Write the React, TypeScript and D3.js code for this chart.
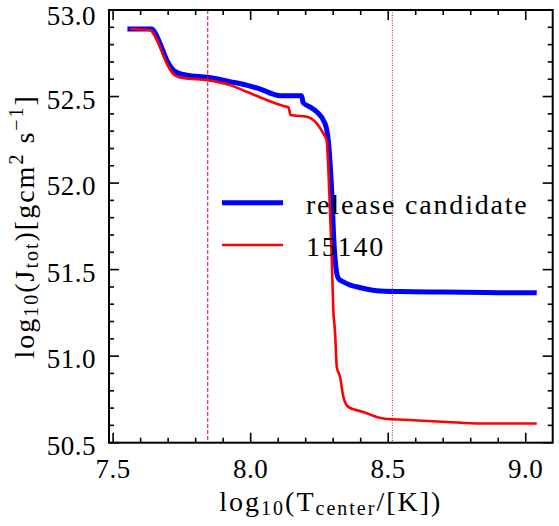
import { useEffect, useRef } from 'react';
import * as React from 'react';
import * as d3 from 'd3';

// release candidate (blue)
const rcX = [7.552, 7.641, 7.652, 7.67, 7.695, 7.719, 7.74, 7.767, 7.844, 7.925, 7.985, 8.04, 8.082, 8.107, 8.185, 8.191, 8.215, 8.24, 8.27, 8.282, 8.295, 8.303, 8.313, 8.319, 8.337, 8.36, 8.385, 8.42, 8.458, 8.543, 8.7, 8.9, 9.04];
const rcY = [52.89, 52.89, 52.87, 52.808, 52.711, 52.653, 52.634, 52.624, 52.611, 52.586, 52.566, 52.54, 52.514, 52.505, 52.505, 52.464, 52.44, 52.412, 52.345, 52.249, 51.942, 51.653, 51.478, 51.449, 51.429, 51.412, 51.401, 51.388, 51.378, 51.373, 51.37, 51.367, 51.366];

// 15140 (red)
const oldX = [7.561, 7.634, 7.648, 7.67, 7.695, 7.719, 7.74, 7.767, 7.844, 7.925, 7.985, 8.058, 8.131, 8.137, 8.145, 8.204, 8.24, 8.264, 8.276, 8.286, 8.295, 8.3, 8.307, 8.313, 8.325, 8.337, 8.355, 8.409, 8.482, 8.591, 8.713, 8.834, 9.04];
const oldY = [52.89, 52.884, 52.86, 52.788, 52.692, 52.63, 52.612, 52.605, 52.595, 52.566, 52.528, 52.48, 52.441, 52.439, 52.393, 52.383, 52.345, 52.287, 52.249, 51.942, 51.555, 51.285, 51.133, 50.938, 50.88, 50.765, 50.707, 50.678, 50.64, 50.63, 50.62, 50.611, 50.611];

const vLines = [7.844, 8.515];
const xMajor = [7.5, 8.0, 8.5, 9.0];
const yMajor = [50.5, 51.0, 51.5, 52.0, 52.5, 53.0];
const legendNames = ['release candidate', '15140'];

const FONT = "'Liberation Serif', 'Times New Roman', Times, 'DejaVu Serif', serif";

const App: React.FC = () => {
    const ref = useRef<SVGSVGElement>(null);

    useEffect(() => {
        const svgWidth = 559, svgHeight = 526;
        const left = 109, right = 552.7, top = 10, bottom = 442.7;

        const svg = d3.select(ref.current)
            .attr('width', svgWidth)
            .attr('height', svgHeight);
        svg.selectAll('*').remove();

        const x = d3.scaleLinear().domain([7.485, 9.098]).range([left, right]);
        const y = d3.scaleLinear().domain([50.5, 53.0]).range([bottom, top]);

        svg.append('defs').append('clipPath').attr('id', 'plotclip')
            .append('rect')
            .attr('x', left).attr('y', top)
            .attr('width', right - left).attr('height', bottom - top);

        const plot = svg.append('g').attr('clip-path', 'url(#plotclip)');

        const line = d3.line<[number, number]>()
            .x(d => x(d[0]))
            .y(d => y(d[1]))
            .curve(d3.curveMonotoneX);

        const rc = rcX.map((v, i) => [v, rcY[i]] as [number, number]);
        const old = oldX.map((v, i) => [v, oldY[i]] as [number, number]);

        plot.append('path')
            .datum(rc)
            .attr('fill', 'none')
            .attr('stroke', '#0000ff')
            .attr('stroke-width', 5)
            .attr('stroke-linejoin', 'round')
            .attr('d', line);

        plot.append('path')
            .datum(old)
            .attr('fill', 'none')
            .attr('stroke', '#ff0000')
            .attr('stroke-width', 2.6)
            .attr('stroke-linejoin', 'round')
            .attr('d', line);

        // vertical markers
        plot.selectAll('line.vl')
            .data(vLines)
            .enter()
            .append('line')
            .attr('x1', d => x(d)).attr('x2', d => x(d))
            .attr('y1', top).attr('y2', bottom)
            .attr('stroke', (_d, i) => i === 0 ? '#e8001a' : '#b0104a')
            .attr('stroke-width', 1)
            .attr('stroke-dasharray', (_d, i) => i === 0 ? '4,2' : '1,1.5');

        // ticks on all four sides, pointing inwards
        const xMinor = d3.range(75, 91).map(v => v / 10).filter(v => !xMajor.some(m => Math.abs(m - v) < 1e-6));
        const yMinor = d3.range(505, 531).map(v => v / 10).filter(v => !yMajor.some(m => Math.abs(m - v) < 1e-6));
        const ticks = svg.append('g').attr('stroke', '#000').attr('stroke-width', 1.6);

        const xt = [...xMajor.map(v => ({ v, len: 10 })), ...xMinor.map(v => ({ v, len: 5 }))];
        const yt = [...yMajor.map(v => ({ v, len: 10 })), ...yMinor.map(v => ({ v, len: 5 }))];

        xt.forEach(t => {
            ticks.append('line').attr('x1', x(t.v)).attr('x2', x(t.v)).attr('y1', bottom).attr('y2', bottom - t.len);
            ticks.append('line').attr('x1', x(t.v)).attr('x2', x(t.v)).attr('y1', top).attr('y2', top + t.len);
        });
        yt.forEach(t => {
            ticks.append('line').attr('y1', y(t.v)).attr('y2', y(t.v)).attr('x1', left).attr('x2', left + t.len);
            ticks.append('line').attr('y1', y(t.v)).attr('y2', y(t.v)).attr('x1', right).attr('x2', right - t.len);
        });

        // frame
        svg.append('rect')
            .attr('x', left).attr('y', top)
            .attr('width', right - left).attr('height', bottom - top)
            .attr('fill', 'none')
            .attr('stroke', '#000')
            .attr('stroke-width', 2);

        // tick labels
        svg.selectAll('text.xl')
            .data(xMajor)
            .enter()
            .append('text')
            .attr('x', d => x(d))
            .attr('y', 478)
            .attr('text-anchor', 'middle')
            .style('font-family', FONT)
            .style('font-size', '27px')
            .style('letter-spacing', '0.5px')
            .text(d => d.toFixed(1));

        svg.selectAll('text.yl')
            .data(yMajor)
            .enter()
            .append('text')
            .attr('x', 96)
            .attr('y', d => Math.max(y(d) + 12, 25))
            .attr('text-anchor', 'end')
            .style('font-family', FONT)
            .style('font-size', '27px')
            .style('letter-spacing', '0.5px')
            .text(d => d.toFixed(1));

        // axis titles
        const xTitle = svg.append('text')
            .attr('x', (left + right) / 2)
            .attr('y', 511)
            .attr('text-anchor', 'middle')
            .style('font-family', FONT)
            .style('font-size', '28px')
            .style('letter-spacing', '2px');
        xTitle.append('tspan').text('log');
        xTitle.append('tspan').style('font-size', '20px').attr('dy', 4).text('10');
        xTitle.append('tspan').attr('dy', -4).text('(T');
        xTitle.append('tspan').style('font-size', '20px').attr('dy', 4).text('center');
        xTitle.append('tspan').attr('dy', -4).text('/[K])');

        const yTitle = svg.append('text')
            .attr('transform', `translate(34,${(top + bottom) / 2}) rotate(-90)`)
            .attr('text-anchor', 'middle')
            .style('font-family', FONT)
            .style('font-size', '28px')
            .style('letter-spacing', '2px');
        yTitle.append('tspan').text('log');
        yTitle.append('tspan').style('font-size', '20px').attr('dy', 4).text('10');
        yTitle.append('tspan').attr('dy', -4).text('(J');
        yTitle.append('tspan').style('font-size', '20px').attr('dy', 4).text('tot');
        yTitle.append('tspan').attr('dy', -4).text(')[gcm');
        yTitle.append('tspan').style('font-size', '20px').attr('dy', -11).text('2');
        yTitle.append('tspan').attr('dy', 11).text(' s');
        yTitle.append('tspan').style('font-size', '20px').attr('dy', -11).text('\u22121');
        yTitle.append('tspan').attr('dy', 11).text(']');

        // legend
        const legend = svg.append('g');
        legendNames.forEach((name, i) => {
            const ly = 202.7 + i * 42.3;
            legend.append('line')
                .attr('x1', 222).attr('x2', 283)
                .attr('y1', ly).attr('y2', ly)
                .attr('stroke', i === 0 ? '#0000ff' : '#ff0000')
                .attr('stroke-width', i === 0 ? 5 : 2.6);
            legend.append('text')
                .attr('x', 306)
                .attr('y', ly + 11)
                .style('font-family', FONT)
                .style('font-size', '28px')
                .style('letter-spacing', '1.8px')
                .text(name);
        });
    }, []);

    return <svg ref={ref} style={{ position: 'absolute', left: 0, top: 0, fontFamily: FONT }} />;
};

export default App;
